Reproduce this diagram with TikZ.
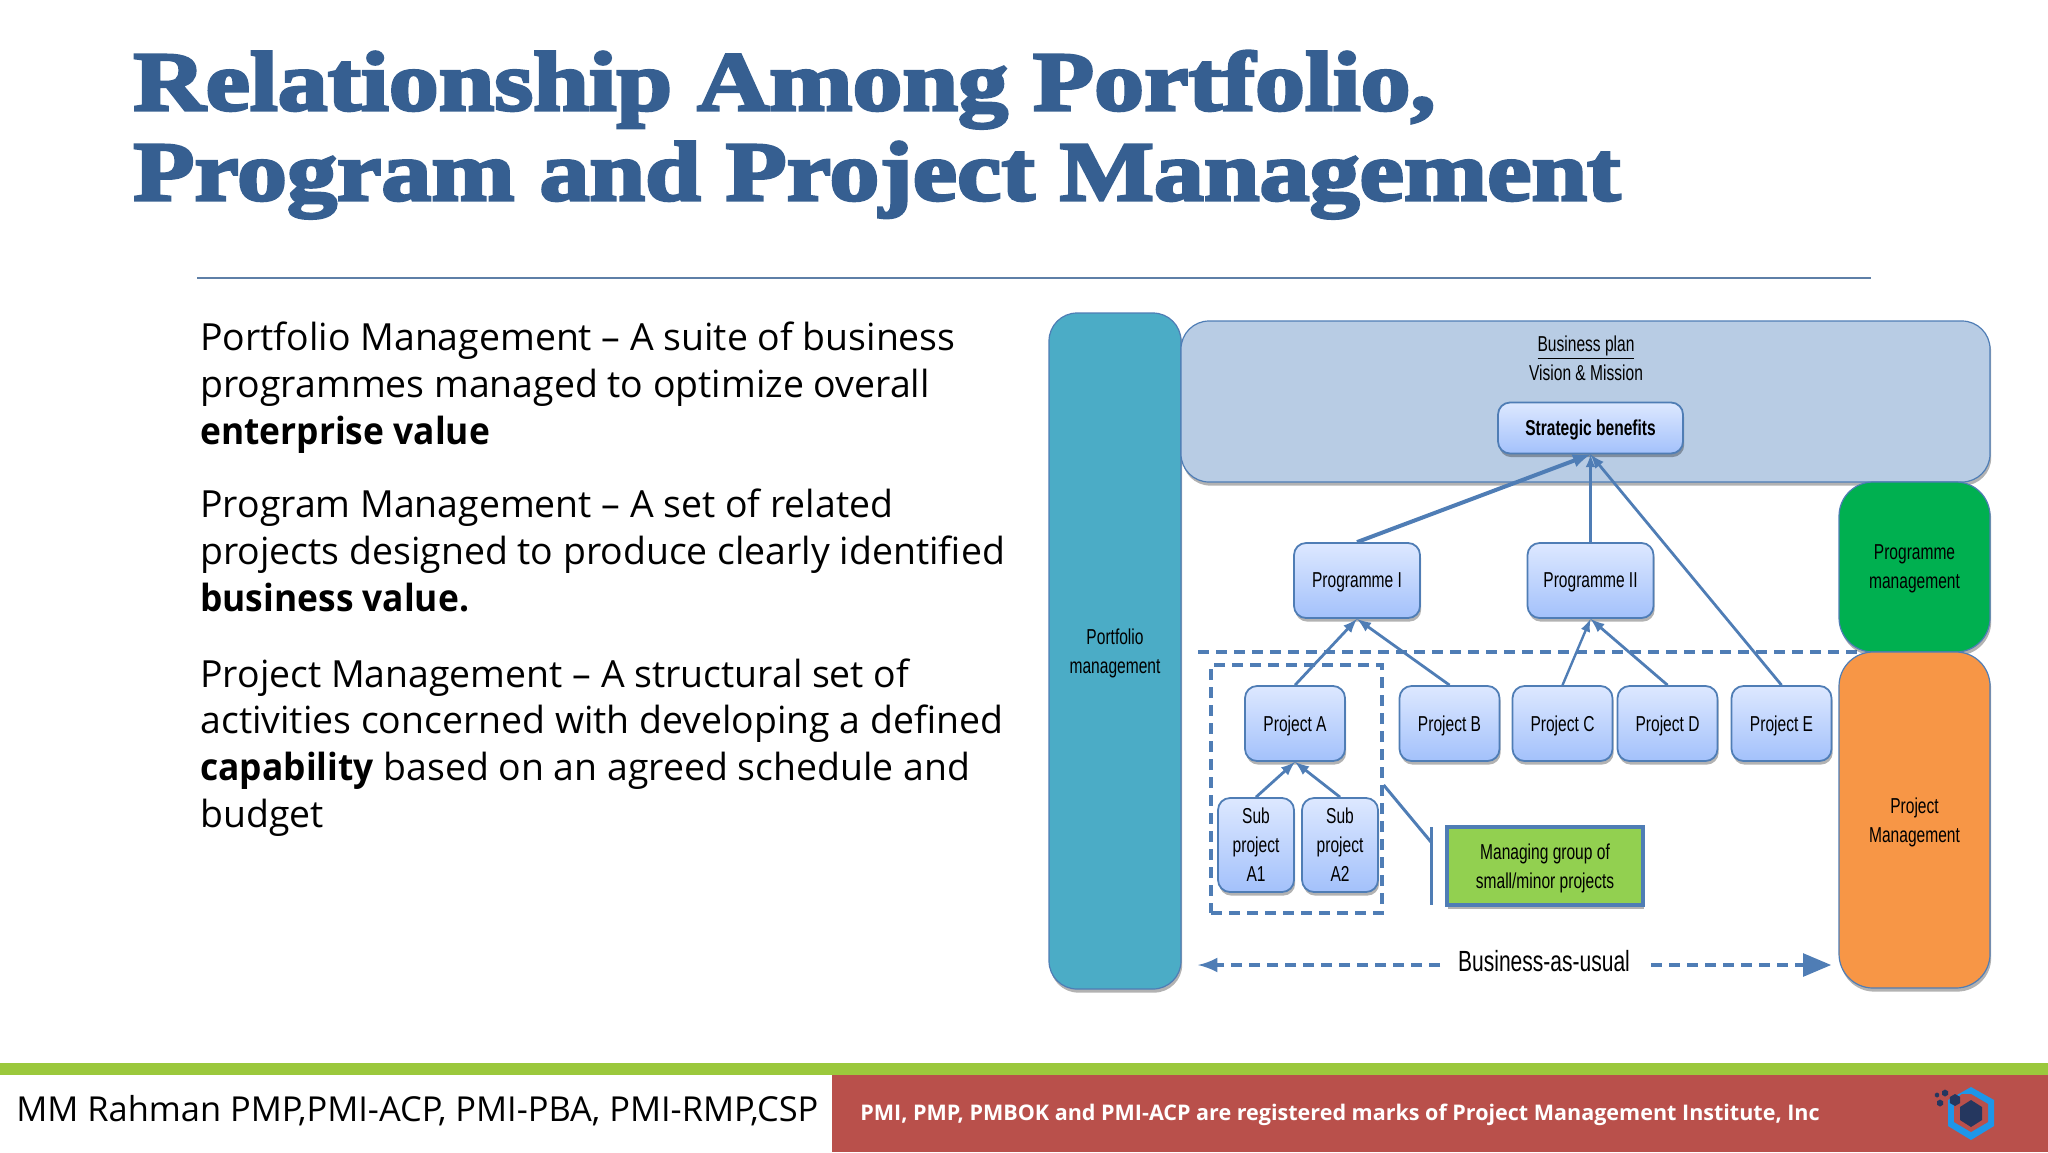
\documentclass[tikz,border=0pt]{standalone}
\usepackage{fontspec}
\usepackage{tikz}
\usetikzlibrary{arrows,shadows}
\setmainfont{Open Sans}
\newfontfamily\titlefont[FakeBold=3.6,FakeStretch=1.19]{Liberation Serif Bold}
\newfontfamily\diagfont[FakeStretch=0.72]{Liberation Sans}
\newfontfamily\bodybold[FakeStretch=0.945]{Open Sans Bold}
\definecolor{titleblue}{HTML}{365F91}
\definecolor{linkblue}{HTML}{4F7DB5}
\definecolor{planblue}{HTML}{B8CCE4}
\definecolor{tealfill}{HTML}{4BACC6}
\definecolor{greenfill}{HTML}{00B050}
\definecolor{orangefill}{HTML}{F79646}
\definecolor{limefill}{HTML}{92D050}
\definecolor{boxtop}{HTML}{DDE8FF}
\definecolor{boxbot}{HTML}{A3C1FB}
\definecolor{footgreen}{HTML}{9BC83C}
\definecolor{footred}{HTML}{B9504B}
\definecolor{logoblue}{HTML}{1E96E8}
\definecolor{logonavy}{HTML}{25375F}
\tikzset{
	softshadow/.style={drop shadow={shadow xshift=0.6pt,shadow yshift=-1.8pt,opacity=.3,fill=black}},
	diagtext/.style={font=\diagfont\fontsize{10.8}{14.5}\selectfont,align=center,text depth=0pt},
	bandbox/.style={draw=linkblue,line width=.6pt,rounded corners=14pt,softshadow,diagtext},
	workbox/.style={draw=linkblue,line width=.9pt,rounded corners=6pt,top color=boxtop,bottom color=boxbot,softshadow,diagtext,inner sep=0pt},
	projbox/.style={workbox,minimum width=50pt,minimum height=37.5pt},
	subbox/.style={workbox,minimum width=38pt,minimum height=47pt},
	progbox/.style={workbox,minimum width=63pt,minimum height=37.5pt},
	bodytext/.style={anchor=base west,inner sep=0pt,font=\fontsize{18.7}{23.3}\selectfont,align=left},
	link/.style={color=linkblue,line width=1.2pt,-latex},
	dashlink/.style={draw=linkblue,line width=2.3pt,dash pattern=on 5.5pt off 3.5pt},
}
\begin{document}
\begin{tikzpicture}[x=0.5pt,y=-0.5pt]
	\useasboundingbox (0,0) rectangle (2048,1152);
	% heading
	\node (title1) [anchor=base west,inner sep=0pt,text=titleblue,font=\titlefont\fontsize{42}{50}\selectfont] at (133,110) {Relationship Among Portfolio,};
	\node (title2) [anchor=base west,inner sep=0pt,text=titleblue,font=\titlefont\fontsize{42}{50}\selectfont] at (133,200) {Program and Project Management};
	\coordinate (ruleL) at (197,278);
	\coordinate (ruleR) at (1871,278);
	\draw[titleblue!80!white,line width=.7pt] (ruleL) -- (ruleR);
	% left column
	\node (para1) [bodytext] at (200,444) {Portfolio Management -- A suite of business\\programmes managed to optimize overall\\{\bodybold enterprise value}};
	\node (para2) [bodytext] at (200,611) {Program Management -- A set of related\\projects designed to produce clearly identified\\{\bodybold business value.}};
	\node (para3) [bodytext] at (200,827) {Project Management -- A structural set of\\activities concerned with developing a defined\\{\bodybold capability} based on an agreed schedule and\\budget};
	% diagram
	\coordinate (dashL) at (1198,652);
	\coordinate (dashR) at (1860,652);
	\draw[dashlink] (dashL) -- (dashR);
	\node (portfolio) [bandbox,fill=tealfill,minimum width=66pt,minimum height=338pt] at (1115,651) {Portfolio\\management};
	\node (plan) [bandbox,fill=planblue,minimum width=404.5pt,minimum height=80.5pt] at (1585.5,401.5) {};
	\node (plantext) [diagtext,inner sep=0pt] at (1586,358) {\underline{Business plan}\\Vision \& Mission};
	\node (progmgmt) [bandbox,fill=greenfill,minimum width=75.5pt,minimum height=85pt,rounded corners=17pt] at (1914.5,567) {Programme\\management};
	\node (projmgmt) [bandbox,fill=orangefill,minimum width=75.5pt,minimum height=168pt,rounded corners=17pt] at (1914.5,820) {Project\\Management};
	\node (strategic) [workbox,minimum width=92.5pt,minimum height=25.5pt] at (1590.5,428) {\bfseries Strategic benefits};
	\node (progI) [progbox] at (1357,580.5) {Programme I};
	\node (progII) [progbox] at (1590.5,580.5) {Programme II};
	\node (projA) [projbox] at (1295,723.5) {Project A};
	\node (projB) [projbox] at (1449.5,723.5) {Project B};
	\node (projC) [projbox] at (1562.5,723.5) {Project C};
	\node (projD) [projbox] at (1667.5,723.5) {Project D};
	\node (projE) [projbox] at (1781.5,723.5) {Project E};
	\node (subA1) [subbox] at (1256,845) {Sub\\project\\A1};
	\node (subA2) [subbox] at (1340,845) {Sub\\project\\A2};
	\node (minor) [draw=linkblue,line width=2pt,fill=limefill,minimum width=98pt,minimum height=39pt,inner sep=0pt,softshadow,diagtext] at (1545,866) {Managing group of\\small/minor projects};
	\node (groupA) [draw=linkblue,line width=1.6pt,dash pattern=on 5.5pt off 3.5pt,minimum width=85.5pt,minimum height=124pt,inner sep=0pt] at (1296.5,789) {};
	\path[link]
	(progI.north) edge[line width=2pt] (strategic.south)
	(progII.north) edge (strategic.south)
	(projE.north) edge[line width=1.4pt] (strategic.south)
	(projA.north) edge[line width=1.4pt] (progI.south)
	(projB.north) edge[line width=1.4pt] (progI.south)
	(projC.north) edge (progII.south)
	(projD.north) edge[line width=1.4pt] (progII.south)
	(subA1.north) edge[line width=1.4pt] (projA.south)
	(subA2.north) edge[line width=1.4pt] (projA.south);
	\coordinate (braceTop) at (1431,827);
	\coordinate (braceBot) at (1431,905);
	\coordinate (braceTip) at (1431,842);
	\draw[linkblue,line width=1.5pt] (braceTop) -- (braceBot);
	\draw[linkblue,line width=1.5pt] (groupA.east |- 0,785) -- (braceTip);
	\node (bau) [font=\diagfont\fontsize{14.6}{16}\selectfont,inner sep=0pt] at (1544,961) {Business-as-usual};
	\coordinate (bauL) at (1198,965);
	\coordinate (bauR) at (1831,965);
	\coordinate (bauLs) at (1440,965);
	\coordinate (bauRs) at (1651,965);
	\draw[dashlink,-latex] (bauLs) -- (bauL);
	\draw[dashlink,-triangle 45] (bauRs) -- (bauR);
	% footer
	\fill[footgreen] (0,1063) rectangle (2048,1075);
	\fill[footred] (832,1075) rectangle (2048,1152);
	\node (footL) [anchor=base west,inner sep=0pt,font=\fontsize{17.2}{20}\selectfont] at (16,1121) {MM Rahman PMP,PMI-ACP, PMI-PBA, PMI-RMP,CSP};
	\node (footR) [anchor=base west,inner sep=0pt,text=white,font=\bfseries\fontsize{10.76}{12}\selectfont] at (860,1120) {PMI, PMP, PMBOK and PMI-ACP are registered marks of Project Management Institute, Inc};
	% logo
	\fill[logoblue] (1971,1087) -- (1994,1100) -- (1994,1126) -- (1971,1140) -- (1948,1126) -- (1948,1100) -- cycle;
	\fill[footred] (1971,1094) -- (1988,1104) -- (1988,1122) -- (1971,1132) -- (1954,1122) -- (1954,1100) -- (1962,1094) -- cycle;
	\fill[logonavy] (1971,1100) -- (1982,1107) -- (1982,1120) -- (1971,1127) -- (1960,1120) -- (1960,1107) -- cycle;
	\foreach \hx/\hy/\hr in {1955/1100/6,1945/1093/3.5,1940/1103/3.5,1937/1095/2.5}
		\fill[logonavy] (\hx,\hy) +(90:\hr) -- +(30:\hr) -- +(-30:\hr) -- +(-90:\hr) -- +(-150:\hr) -- +(150:\hr) -- cycle;
\end{tikzpicture}
\end{document}
